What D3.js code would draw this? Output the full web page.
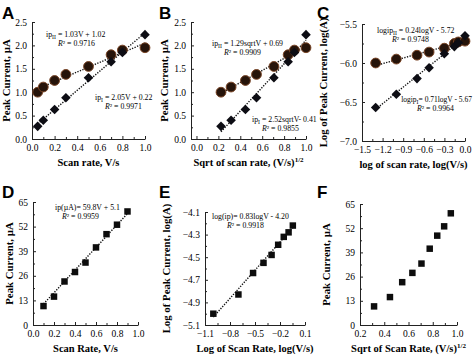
<!DOCTYPE html>
<html><head><meta charset="utf-8">
<script src="https://cdn.jsdelivr.net/npm/d3@7"></script>
<style>
body{margin:0;background:#fff;}
text{font-family:"Liberation Serif","Times New Roman",serif;fill:#000;}
</style></head>
<body>
<svg id="c" width="474" height="355"></svg>
<script>
// ---------- DATA ----------
const scanRateAB = [0.05, 0.1, 0.2, 0.3, 0.5, 0.7, 0.8, 1.0];
const sqrtRateAB = [0.224, 0.316, 0.447, 0.548, 0.707, 0.837, 0.894, 1.0];
const logRateAB  = [-1.301, -1.0, -0.699, -0.523, -0.301, -0.155, -0.097, 0.0];
const ipII_uA    = [1.00, 1.11, 1.25, 1.38, 1.55, 1.80, 1.90, 1.95];
const ipI_uA     = [0.27, 0.40, 0.63, 0.88, 1.31, 1.65, 1.85, 2.23];
const logIpII    = [-6.00, -5.95, -5.90, -5.86, -5.81, -5.75, -5.73, -5.72];
const logIpI     = [-6.57, -6.40, -6.20, -6.06, -5.88, -5.79, -5.74, -5.65];

const scanRateD  = [0.1, 0.2, 0.3, 0.4, 0.5, 0.6, 0.7, 0.8, 0.9];
const logRateD   = [-1.0, -0.699, -0.523, -0.398, -0.301, -0.222, -0.155, -0.097, -0.046];
const sqrtRateD  = [0.316, 0.447, 0.548, 0.632, 0.707, 0.775, 0.837, 0.894, 0.949];
const ipD_uA     = [10, 15, 23, 28, 33, 41, 48, 53, 60];
const logIpD     = [-5.00, -4.83, -4.64, -4.55, -4.48, -4.39, -4.32, -4.28, -4.22];

// linear fits [slope, intercept]
const fitA_II = [1.03, 1.02], fitA_I = [2.05, 0.22];
const fitB_II = [1.29, 0.69], fitB_I = [2.52, -0.41];
const fitC_II = [0.24, -5.72], fitC_I = [0.71, -5.67];
const fitD = [59.8, 5.1];
const fitE = [0.83, -4.20];

const ticksA_x = [0,0.2,0.4,0.6,0.8,1.0], ticksA_y = [0,0.5,1.0,1.5,2.0,2.5];
const ticksC_x = [-1.5,-1.2,-0.9,-0.6,-0.3,0.0], ticksC_y = [-7.0,-6.5,-6.0,-5.5];
const ticksD_y = [0,13,26,39,52,65];
const ticksE_x = [-1.1,-0.8,-0.5,-0.2,0.1], ticksE_y = [-5.1,-4.9,-4.7,-4.5,-4.3,-4.1];
const ticksF_x = [0.2,0.4,0.6,0.8,1.0];

// ---------- DRAW ----------
const svg = d3.select("#c");
const fmt1 = d3.format(".1f");

function minorsOf(major){
  const out=[]; for(let i=0;i<major.length-1;i++) out.push((major[i]+major[i+1])/2); return out;
}

function panel(o){
  const g = svg.append("g");
  const x = d3.scaleLinear().domain(o.xd).range(o.xr);
  const y = d3.scaleLinear().domain(o.yd).range(o.yr);
  g.append("g").attr("transform",`translate(0,${o.yr[0]})`)
    .call(d3.axisBottom(x).tickValues(o.xt).tickFormat(o.xf).tickSize(-3).tickSizeOuter(0).tickPadding(5));
  g.append("g").attr("transform",`translate(0,${o.yr[0]})`)
    .call(d3.axisBottom(x).tickValues(minorsOf(o.xt)).tickFormat("").tickSize(-2).tickSizeOuter(0)).select(".domain").remove();
  g.append("g").attr("transform",`translate(${o.xr[0]},0)`)
    .call(d3.axisLeft(y).tickValues(o.yt).tickFormat(o.yf).tickSize(-3).tickSizeOuter(0).tickPadding(5));
  g.append("g").attr("transform",`translate(${o.xr[0]},0)`)
    .call(d3.axisLeft(y).tickValues(minorsOf(o.yt)).tickFormat("").tickSize(-2).tickSizeOuter(0)).select(".domain").remove();
  g.selectAll(".tick text").attr("font-size",9.5).attr("font-family","Liberation Serif");
  g.selectAll(".domain,.tick line").attr("stroke","#222").attr("stroke-width",1);

  (o.fits||[]).forEach(f=>{
    g.append("line")
      .attr("x1",x(f.x0)).attr("y1",y(f.c[0]*f.x0+f.c[1]))
      .attr("x2",x(f.x1)).attr("y2",y(f.c[0]*f.x1+f.c[1]))
      .attr("stroke","#111").attr("stroke-width",1.4).attr("stroke-dasharray","1.3,1.4");
  });
  o.series.forEach(s=>{
    const pts = s.xs.map((v,i)=>[v,s.ys[i]]);
    const sel = g.selectAll(null).data(pts).enter();
    if(s.shape==="circle"){
      sel.append("circle").attr("cx",d=>x(d[0])).attr("cy",d=>y(d[1])).attr("r",4.9)
        .attr("fill","#26140a").attr("stroke","#7a4526").attr("stroke-width",1);
    } else if(s.shape==="diamond"){
      sel.append("path").attr("d",d3.symbol(d3.symbolSquare,46)())
        .attr("transform",d=>`translate(${x(d[0])},${y(d[1])}) rotate(45)`).attr("fill","#0d0d14");
    } else {
      sel.append("path").attr("d",d3.symbol(d3.symbolSquare,42)())
        .attr("transform",d=>`translate(${x(d[0])},${y(d[1])})`).attr("fill","#0d0d0d");
    }
  });
  const xt = g.append("text").attr("x",(o.xr[0]+o.xr[1])/2).attr("y",o.yr[0]+27)
    .attr("text-anchor","middle").attr("font-weight","bold").attr("font-size",10.5);
  o.xtitle(xt);
  g.append("text").attr("transform",`translate(${o.ytx},${(o.yr[0]+o.yr[1])/2}) rotate(-90)`)
    .attr("text-anchor","middle").attr("font-weight","bold").attr("font-size",10.8).text(o.ytitle);
  g.append("text").attr("x",o.lx).attr("y",o.ly)
    .style("font-family","Liberation Sans, Arial, sans-serif")
    .attr("font-weight","bold").attr("font-size",17).text(o.letter);
  (o.notes||[]).forEach(n=>{
    const t = g.append("text").attr("x",n.x).attr("y",n.y).attr("font-size",n.fs||7.8)
      .attr("text-anchor",n.anchor||"start");
    n.f(t);
  });
  return g;
}

function eqIp(sub, rest, pre){
  return t=>{
    t.append("tspan").text((pre||"")+"ip");
    t.append("tspan").attr("font-size",5.8).attr("dy",2).text(sub);
    t.append("tspan").attr("dy",-2).text(rest);
  };
}
function r2(val){
  return t=>{
    t.append("tspan").attr("font-style","italic").text("R");
    t.append("tspan").text("² = "+val);
  };
}
function supTitle(main, sup){
  return t=>{
    t.append("tspan").text(main);
    t.append("tspan").attr("font-size",7).attr("dy",-4).text(sup);
  };
}

// A
panel({letter:"A", lx:2, ly:19, xd:[0,1], xr:[32,145], yd:[0,2.5], yr:[139,22],
  xt:ticksA_x, yt:ticksA_y, xf:fmt1, yf:fmt1,
  xtitle:t=>t.text("Scan rate, V/s"), ytitle:"Peak Current, µA", ytx:10,
  fits:[{c:fitA_II,x0:0.05,x1:1.0},{c:fitA_I,x0:0.05,x1:1.0}],
  series:[{xs:scanRateAB,ys:ipII_uA,shape:"circle"},{xs:scanRateAB,ys:ipI_uA,shape:"diamond"}],
  notes:[{x:46,y:37,f:eqIp("II"," = 1.03V + 1.02")},{x:58,y:46,f:r2("0.9716")},
         {x:95,y:100,f:eqIp("I"," = 2.05V + 0.22")},{x:105,y:109,f:r2("0.9971")}]
});
// B
panel({letter:"B", lx:159, ly:19, xd:[-0.05,1], xr:[191,306], yd:[0,2.5], yr:[139,22],
  xt:ticksA_x, yt:ticksA_y, xf:fmt1, yf:fmt1,
  xtitle:supTitle("Sqrt of scan rate, (V/s)","1/2"), ytitle:"Peak Current, µA", ytx:168,
  fits:[{c:fitB_II,x0:0.224,x1:1.0},{c:fitB_I,x0:0.224,x1:1.0}],
  series:[{xs:sqrtRateAB,ys:ipII_uA,shape:"circle"},{xs:sqrtRateAB,ys:ipI_uA,shape:"diamond"}],
  notes:[{x:212,y:46,f:eqIp("II"," = 1.29sqrtV + 0.69")},{x:224,y:55,f:r2("0.9909")},
         {x:252,y:122,f:eqIp("I"," = 2.52sqrtV- 0.41")},{x:262,y:131,f:r2("0.9855")}]
});
// C
panel({letter:"C", lx:317, ly:19, xd:[-1.5,0], xr:[362,465], yd:[-7,-5.5], yr:[141,24],
  xt:ticksC_x, yt:ticksC_y, xf:fmt1, yf:fmt1,
  xtitle:t=>t.text("log of scan rate, log(V/s)"), ytitle:"Log of  Peak Current, log(A)", ytx:327,
  fits:[{c:fitC_II,x0:-1.301,x1:0},{c:fitC_I,x0:-1.301,x1:0}],
  series:[{xs:logRateAB,ys:logIpII,shape:"circle"},{xs:logRateAB,ys:logIpI,shape:"diamond"}],
  notes:[{x:377,y:33,f:eqIp("II"," = 0.24logV - 5.72","log")},{x:392,y:42,f:r2("0.9748")},
         {x:472,y:102,anchor:"end",fs:7.5,f:eqIp("I","= 0.71logV - 5.67","log")},{x:417,y:111,f:r2("0.9964")}]
});
// D
panel({letter:"D", lx:2, ly:198, xd:[0,1], xr:[33,138], yd:[0,65], yr:[325,202],
  xt:ticksA_x, yt:ticksD_y, xf:fmt1, yf:d3.format("d"),
  xtitle:t=>t.text("Scan Rate, V/s"), ytitle:"Peak Current, µA", ytx:13,
  fits:[{c:fitD,x0:0.1,x1:0.9}],
  series:[{xs:scanRateD,ys:ipD_uA,shape:"square"}],
  notes:[{x:55,y:210,f:t=>t.text("ip(µA)= 59.8V + 5.1")},{x:62,y:219,f:r2("0.9959")}]
});
// E
panel({letter:"E", lx:159, ly:198, xd:[-1.1,0.1], xr:[205,305], yd:[-5.1,-4.1], yr:[325,212],
  xt:ticksE_x, yt:ticksE_y, xf:fmt1, yf:fmt1,
  xtitle:t=>t.text("Log of Scan Rate, log(V/s)"), ytitle:"Log of  Peak Current, log(A)", ytx:170,
  fits:[{c:fitE,x0:-1.0,x1:-0.046}],
  series:[{xs:logRateD,ys:logIpD,shape:"square"}],
  notes:[{x:212,y:219,f:t=>t.text("log(ip)= 0.83logV - 4.20")},{x:227,y:228,f:r2("0.9918")}]
});
// F
panel({letter:"F", lx:317, ly:198, xd:[0.2,1.0], xr:[360,457], yd:[0,65], yr:[325,204],
  xt:ticksF_x, yt:ticksD_y, xf:fmt1, yf:d3.format("d"),
  xtitle:supTitle("Sqrt of Scan Rate, (V/s)","1/2"), ytitle:"Peak Current, µA", ytx:330,
  series:[{xs:sqrtRateD,ys:ipD_uA,shape:"square"}]
});
</script>
</body></html>
